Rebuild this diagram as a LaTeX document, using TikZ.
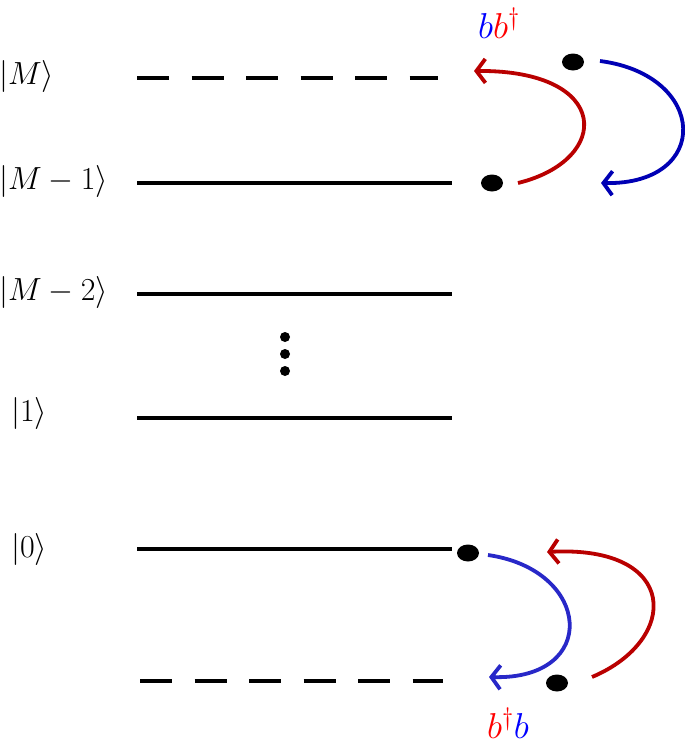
\RequirePackage{fix-cm}
\documentclass[tikz,border=0pt]{standalone}
\usetikzlibrary{arrows.meta,shapes.geometric}
\definecolor{arrred}{RGB}{185,0,0}
\definecolor{arrblue}{RGB}{0,0,180}
\definecolor{arrblueb}{RGB}{40,40,200}
\begin{document}
\begin{tikzpicture}[x=1pt,y=-1pt,
  ket/.style={anchor=west,inner sep=0pt,font=\fontsize{32}{38}\selectfont},
  oplabel/.style={inner sep=0pt,font=\fontsize{36}{42}\selectfont},
  level/.style={line width=4.5pt},
  dlevel/.style={line width=4.5pt,dash pattern=on 32pt off 22.5pt},
  dotnode/.style={ellipse,fill=black,minimum width=22pt,minimum height=17pt,inner sep=0pt},
  smalldot/.style={circle,fill=black,minimum size=10pt,inner sep=0pt},
  hop/.style={line width=3.8pt,-{Straight Barb[length=9pt,width=24pt,line width=3.8pt]}}]
\useasboundingbox (0,0) rectangle (685,747);
% labels
\node[ket] (kM) at (-1,76) {$|M\rangle$};
\node[ket] (kM1) at (-1,181) {$|M-1\rangle$};
\node[ket] (kM2) at (-1,292) {$|M-2\rangle$};
\node[ket] (k1) at (11,413) {$|1\rangle$};
\node[ket] (k0) at (11,549) {$|0\rangle$};
% levels
\coordinate (aM) at (137,78); \coordinate (bM) at (438,78);
\coordinate (a1) at (137,183); \coordinate (b1) at (452,183);
\coordinate (a2) at (137,294); \coordinate (b2) at (452,294);
\coordinate (a3) at (137,418); \coordinate (b3) at (452,418);
\coordinate (a4) at (137,549); \coordinate (b4) at (452,549);
\coordinate (a5) at (140,681); \coordinate (b5) at (443,681);
\draw[dlevel] (aM) -- (bM);
\draw[level] (a1) -- (b1);
\draw[level] (a2) -- (b2);
\draw[level] (a3) -- (b3);
\draw[level] (a4) -- (b4);
\draw[dlevel] (a5) -- (b5);
% vertical dots
\node[smalldot] (v1) at (285,337) {};
\node[smalldot] (v2) at (285,354) {};
\node[smalldot] (v3) at (285,371) {};
% particles
\node[dotnode] (pT) at (573,62) {};
\node[dotnode] (pTb) at (492,183) {};
\node[dotnode] (pB) at (468,553) {};
\node[dotnode] (pBb) at (557,683) {};
% top arrows
\coordinate (rT0) at (518,183); \coordinate (rT1) at (474,71);
\draw[hop,arrred] (rT0) .. controls (612,160) and (612,70) .. (rT1);
\coordinate (bT0) at (600,61); \coordinate (bT1) at (601,183);
\draw[hop,arrblue] (bT0) .. controls (708,75) and (712,185) .. (bT1);
% bottom arrows
\coordinate (bB0) at (488,555); \coordinate (bB1) at (489,677);
\draw[hop,arrblueb] (bB0) .. controls (592,570) and (600,680) .. (bB1);
\coordinate (rB0) at (592,677); \coordinate (rB1) at (547,552);
\draw[hop,arrred] (rB0) .. controls (680,640) and (680,545) .. (rB1);
% operator labels
\node[oplabel] (opT) at (499,23) {$\textcolor{blue}{b}\textcolor{red}{b^\dagger}$};
\node[oplabel] (opB) at (508,723) {$\textcolor{red}{b^\dagger}\textcolor{blue}{b}$};
\end{tikzpicture}
\end{document}
